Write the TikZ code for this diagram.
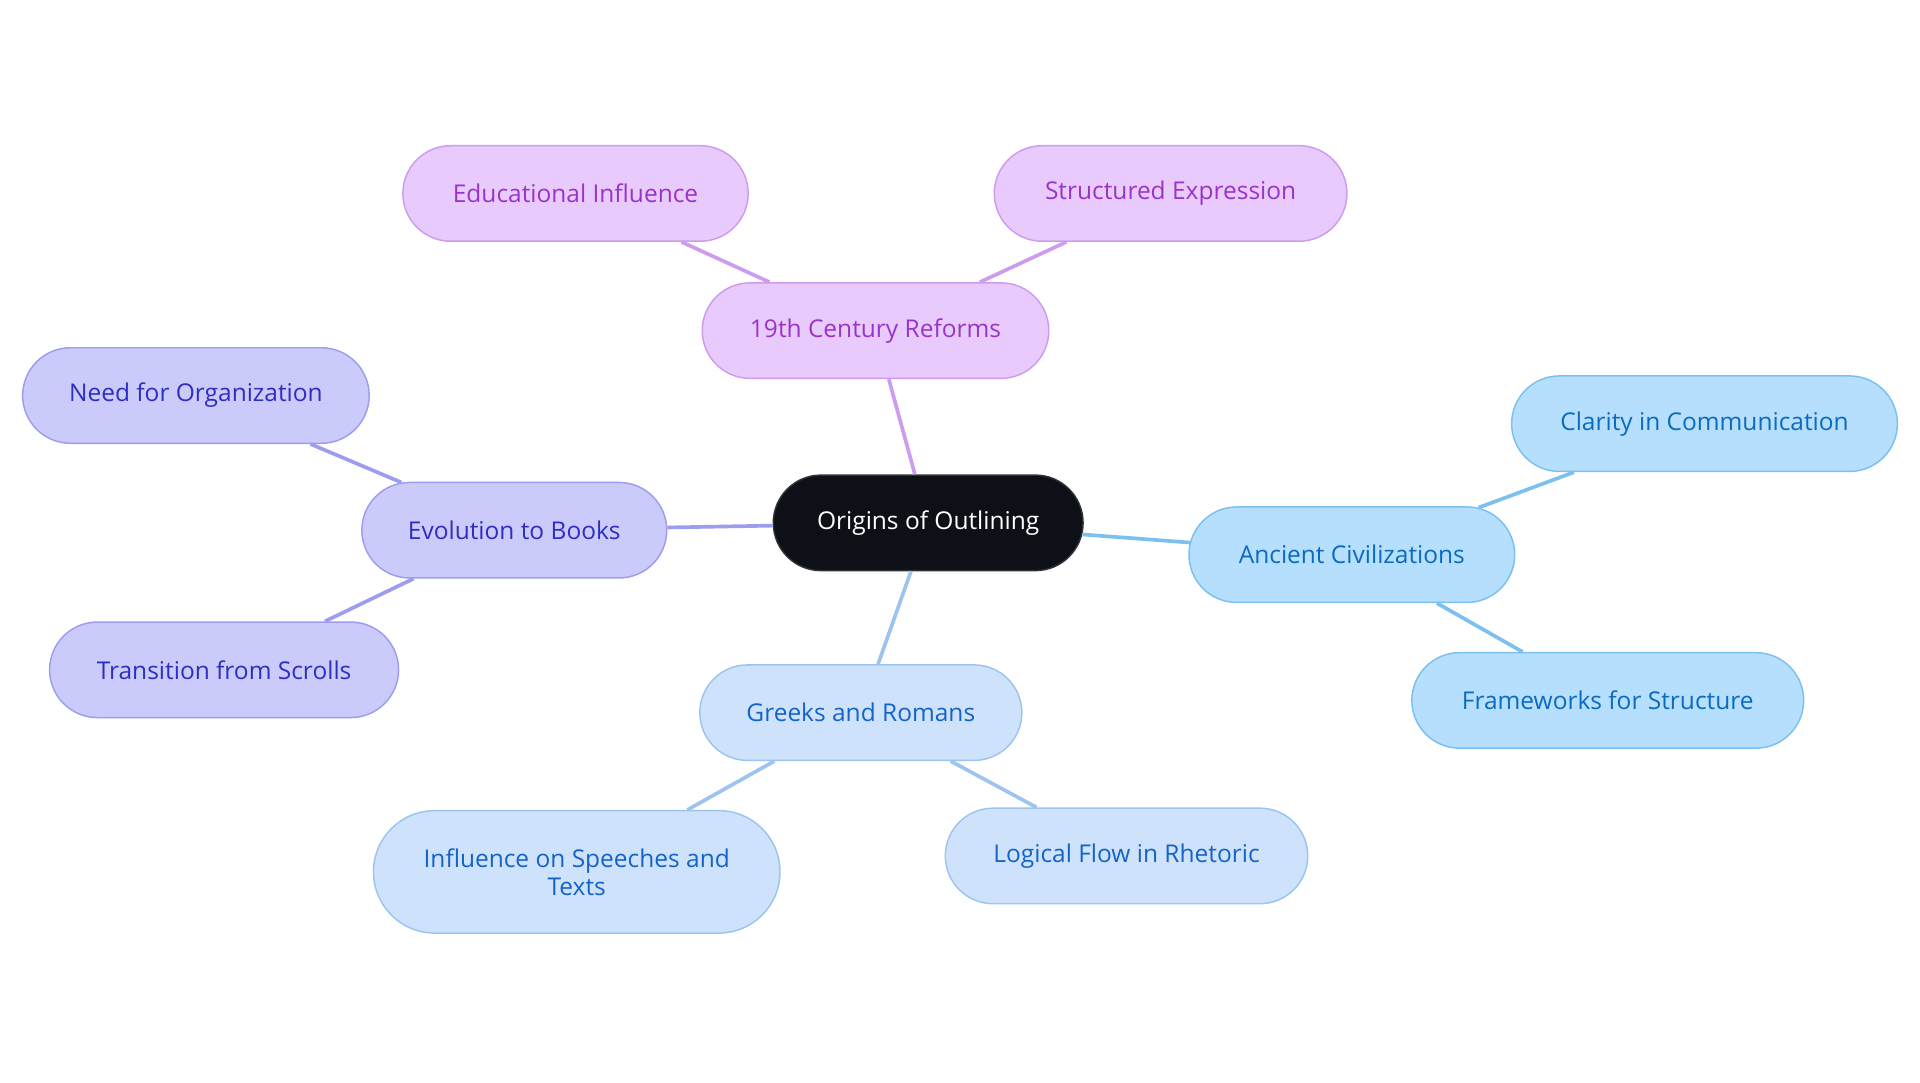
\documentclass[tikz,border=0pt]{standalone}
\usepackage{fontspec}
\setmainfont{Open Sans}
\usetikzlibrary{shapes.misc}
\definecolor{cf}{HTML}{0D1117}
\definecolor{af}{HTML}{B5DFFC}\definecolor{ad}{HTML}{7CC0EF}\definecolor{at}{HTML}{0B6BC0}
\definecolor{gf}{HTML}{CEE3FB}\definecolor{gd}{HTML}{9CC4EF}\definecolor{gt}{HTML}{1463C8}
\definecolor{ef}{HTML}{CBCBFB}\definecolor{ed}{HTML}{9D9DEF}\definecolor{et}{HTML}{2E2EC0}
\definecolor{rf}{HTML}{E8CAFC}\definecolor{rd}{HTML}{CD9CEF}\definecolor{rt}{HTML}{9A34C9}
\tikzset{
 box/.style={rounded rectangle, minimum height=78pt, inner sep=0pt, line width=1.2pt, font=\fontsize{20}{23}\selectfont, align=center},
 anc/.style={box, fill=af, draw=ad, text=at},
 gre/.style={box, fill=gf, draw=gd, text=gt},
 evo/.style={box, fill=ef, draw=ed, text=et},
 ref/.style={box, fill=rf, draw=rd, text=rt},
 edge/.style={line width=3pt}
}
\begin{document}
\begin{tikzpicture}[x=1pt,y=-1pt]
\useasboundingbox (0,0) rectangle (1568,884);
\node[box, fill=cf, draw=cf!70!gray, text=white, minimum width=253pt] (c) at (758,427) {Origins of Outlining};
\node[anc, minimum width=266pt] (a) at (1104,453) {Ancient Civilizations};
\node[anc, minimum width=315pt] (a1) at (1392,346) {Clarity in Communication};
\node[anc, minimum width=320pt] (a2) at (1313,572) {Frameworks for Structure};
\node[gre, minimum width=263pt] (g) at (703,582) {Greeks and Romans};
\node[gre, minimum width=332pt, minimum height=100pt] (g1) at (471,712) {Influence on Speeches and\\Texts};
\node[gre, minimum width=296pt] (g2) at (920,699) {Logical Flow in Rhetoric};
\node[evo, minimum width=249pt] (e) at (420,433) {Evolution to Books};
\node[evo, minimum width=283pt] (e1) at (160,323) {Need for Organization};
\node[evo, minimum width=285pt] (e2) at (183,547) {Transition from Scrolls};
\node[ref, minimum width=283pt] (r) at (715,270) {19th Century Reforms};
\node[ref, minimum width=282pt] (r1) at (470,158) {Educational Influence};
\node[ref, minimum width=288pt] (r2) at (956,158) {Structured Expression};
\draw[edge, ad] (c) -- (a); \draw[edge, ad] (a) -- (a1); \draw[edge, ad] (a) -- (a2);
\draw[edge, gd] (c) -- (g); \draw[edge, gd] (g) -- (g1); \draw[edge, gd] (g) -- (g2);
\draw[edge, ed] (c) -- (e); \draw[edge, ed] (e) -- (e1); \draw[edge, ed] (e) -- (e2);
\draw[edge, rd] (c) -- (r); \draw[edge, rd] (r) -- (r1); \draw[edge, rd] (r) -- (r2);
\end{tikzpicture}
\end{document}
